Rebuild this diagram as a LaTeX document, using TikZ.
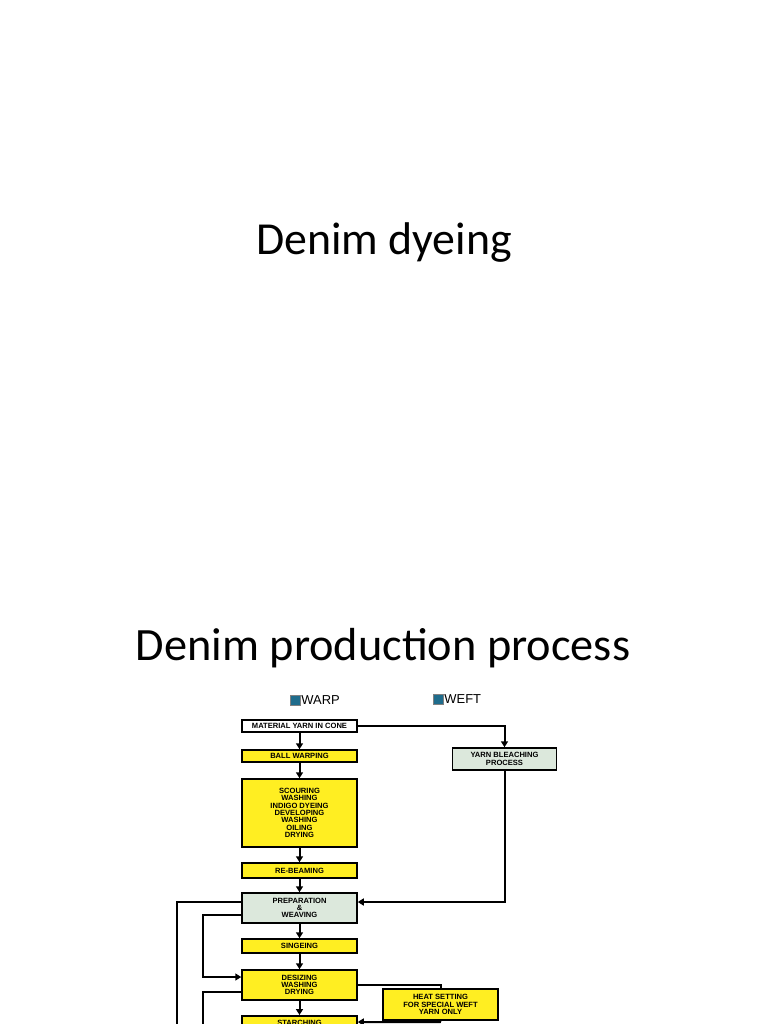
\documentclass[tikz,border=0pt]{standalone}
\usepackage{fontspec}
\setmainfont{Carlito}
\newfontfamily\boxfont{Liberation Sans}
\usetikzlibrary{arrows.meta}
\definecolor{byel}{HTML}{FFEE22}
\definecolor{bgrn}{HTML}{DCE8DC}
\definecolor{lgd}{HTML}{1F6C8C}
\begin{document}
\begin{tikzpicture}[x=1bp,y=-1bp,
  yel/.style={draw=black,line width=1.5bp,fill=byel,font=\boxfont\bfseries\fontsize{7.6}{7.4}\selectfont,align=center,inner sep=0pt},
  grn/.style={yel,fill=bgrn},
  wht/.style={yel,fill=white},
  con/.style={line width=2bp,-{Triangle[length=6bp,width=7bp]}},
  lin/.style={line width=2bp}]
\useasboundingbox (0,0) rectangle (768,1024);
\node[font=\fontsize{46}{50}\selectfont] (t1) at (384,243) {Denim dyeing};
\node[font=\fontsize{46.5}{50}\selectfont] (t2) at (383,648) {Denim production process};
% legend
\node[draw=gray,fill=lgd,minimum size=10bp,inner sep=0pt] (lw) at (295,700) {};
\node[anchor=west,font=\boxfont\fontsize{13}{13}\selectfont,inner sep=1pt] (lwt) at (lw.east) {WARP};
\node[draw=gray,fill=lgd,minimum size=10bp,inner sep=0pt] (lf) at (438,699) {};
\node[anchor=west,font=\boxfont\fontsize{13}{13}\selectfont,inner sep=1pt] (lft) at (lf.east) {WEFT};
% boxes
\node[wht,minimum width=115bp,minimum height=12bp] (mat) at (299.5,726) {MATERIAL YARN IN CONE};
\node[yel,minimum width=115bp,minimum height=12bp] (ball) at (299.5,756) {BALL WARPING};
\node[yel,minimum width=115bp,minimum height=68bp] (scour) at (299.5,813) {SCOURING\\WASHING\\INDIGO DYEING\\DEVELOPING\\WASHING\\OILING\\DRYING};
\node[yel,minimum width=115bp,minimum height=15bp] (rebeam) at (299.5,870.5) {RE-BEAMING};
\node[grn,minimum width=115bp,minimum height=30bp] (prep) at (299.5,908) {PREPARATION\\\&\\WEAVING};
\node[yel,minimum width=115bp,minimum height=14bp] (sing) at (299.5,946) {SINGEING};
\node[yel,minimum width=115bp,minimum height=30bp] (desz) at (299.5,985) {DESIZING\\WASHING\\DRYING};
\node[yel,minimum width=115bp,minimum height=14bp,anchor=north] (starch) at (299.5,1015) {STARCHING};
\node[grn,minimum width=104bp,minimum height=22bp] (bleach) at (504.5,759) {YARN BLEACHING\\PROCESS};
\node[yel,minimum width=115bp,minimum height=31bp] (heat) at (440.5,1004.5) {HEAT SETTING\\FOR SPECIAL WEFT\\YARN ONLY};
% connectors
\draw[con] (mat) -- (ball);
\draw[con] (ball) -- (scour);
\draw[con] (scour) -- (rebeam);
\draw[con] (rebeam) -- (prep);
\draw[con] (prep) -- (sing);
\draw[con] (sing) -- (desz);
\draw[con] (desz) -- (starch);
\draw[con] (mat.east) -| (bleach.north);
\draw[con] (bleach.south) |- ([yshift=6bp]prep.east);
\coordinate (o1) at (177,1024);
\draw[lin] ([yshift=6bp]prep.west) -| (o1);
\draw[con] ([yshift=-7bp]prep.west) -| (203,977) -- (desz.west |- 0,977);
\coordinate (o2) at (203,1024);
\draw[lin] ([yshift=-7bp]desz.west) -| (o2);
\draw[lin] (desz.east) -| (heat.north);
\coordinate (hb) at (440,1022);
\draw[con] (heat.south) -- (hb) -- (starch.east |- hb);
\end{tikzpicture}
\end{document}
